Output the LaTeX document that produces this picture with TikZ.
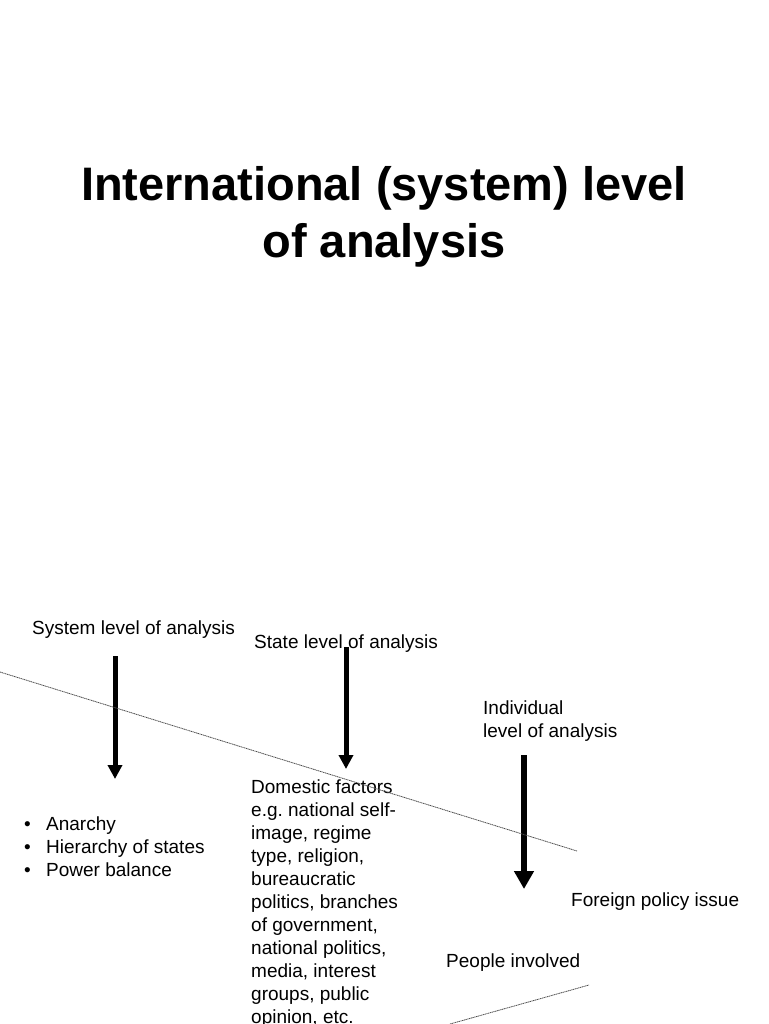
\documentclass[tikz,border=0pt]{standalone}
\usepackage{fontspec}
\setmainfont{Liberation Sans}
\usetikzlibrary{arrows.meta,positioning}

\begin{document}
\frenchspacing
\begin{tikzpicture}[x=1pt, y=-1pt,
    lbl/.style={font=\fontsize{19}{23}\selectfont, inner sep=0pt, align=left},
    level/.style={-{Triangle[width=14pt,length=14pt]}, line width=5pt},
    divider/.style={line width=0.8pt, black!70, dash pattern=on 1.2pt off 0.6pt}]
  \useasboundingbox (0,0) rectangle (768,1024);

  \node[font=\fontsize{47}{57}\selectfont\bfseries, align=center, inner sep=0pt] (title) at (384,217)
    {International (system) level\\of analysis};

  % level labels
  \node[lbl, anchor=west] (system) at (32,630) {System level of analysis};
  \node[lbl, anchor=west] (state) at (254,644) {State level of analysis};
  \node[lbl, anchor=west] (individual) at (483,721) {Individual\\level of analysis};

  % what each level looks at
  \node[lbl, anchor=west] (bullets) at (24,847)
    {\makebox[22pt][l]{\textbullet}Anarchy\\
     \makebox[22pt][l]{\textbullet}Hierarchy of states\\
     \makebox[22pt][l]{\textbullet}Power balance};
  \node[lbl, anchor=west] (domestic) at (251,903.5)
    {Domestic factors\\e.g. national self-\\image, regime\\type, religion,\\bureaucratic\\politics, branches\\of government,\\national politics,\\media, interest\\groups, public\\opinion, etc.};
  \node[lbl, anchor=west] (foreign) at (571,902) {Foreign policy issue};
  \node[lbl, anchor=west] (people) at (446,963) {People involved};

  % arrows
  \coordinate (sysTop) at (115,656);
  \coordinate (sysTip) at (115,779);
  \coordinate (stateTop) at (346,647);
  \coordinate (stateTip) at (346,769);
  \coordinate (indTop) at (524,755);
  \coordinate (indTip) at (524,889);
  \draw[level] (sysTop) -- (sysTip);
  \draw[level] (stateTop) -- (stateTip);
  \draw[level, line width=6.5pt, -{Triangle[width=19pt,length=18pt]}] (indTop) -- (indTip);

  % dividing lines
  \coordinate (cutA) at (0,672);
  \coordinate (cutB) at (577,851);
  \coordinate (cutC) at (450,1024);
  \coordinate (cutD) at (589,985);
  \draw[divider] (cutA) -- (cutB);
  \draw[divider] (cutC) -- (cutD);
\end{tikzpicture}
\end{document}
